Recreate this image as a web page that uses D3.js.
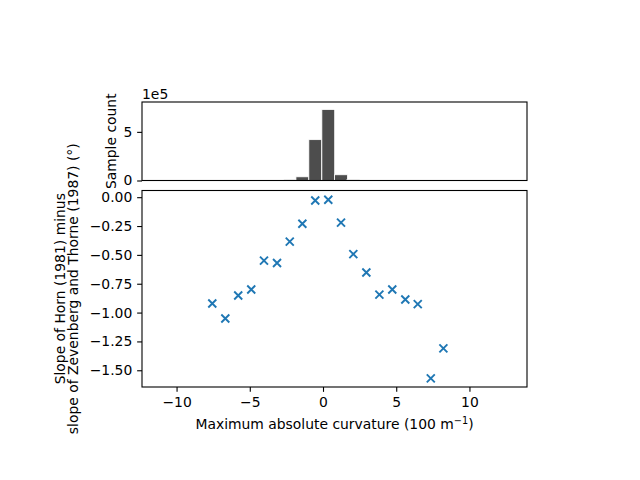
<!DOCTYPE html>
<html>
<head>
<meta charset="utf-8">
<script src="https://cdn.jsdelivr.net/npm/d3@7"></script>
<style>
  html, body { margin: 0; padding: 0; background: #fff; }
  text { font-family: "DejaVu Sans", sans-serif; fill: #000; }
</style>
</head>
<body>
<svg id="chart" width="640" height="480"></svg>
<script>
// ---- data ----
const binCenters = [-7.56, -6.67, -5.79, -4.90, -4.03, -3.14, -2.27, -1.41, -0.53, 0.36,
                    1.23, 2.07, 2.96, 3.85, 4.73, 5.62, 6.47, 7.36, 8.22];
const slopeDiff = [-0.921, -1.051, -0.852, -0.800, -0.550, -0.570, -0.385, -0.230, -0.029, -0.022,
                   -0.221, -0.493, -0.653, -0.844, -0.800, -0.887, -0.927, -1.570, -1.310];
const sampleCount = [20, 40, 90, 200, 600, 2500, 10000, 38000, 420000, 730000,
                     59000, 9000, 2000, 500, 200, 100, 50, 30, 20];
const xTicks = [-10, -5, 0, 5, 10];
const yTicksBottom = [0, -0.25, -0.5, -0.75, -1.0, -1.25, -1.5];
const yTicksTop = [0, 500000];

// ---- layout ----
const L = 142, R = 527;
const topT = 102, topB = 180.5;
const botT = 190.5, botB = 387;

const svg = d3.select("#chart");
const fs = 13.9;
const tickLen = 4.86, tickPad = 4.86, lw = 1.1;

const x = d3.scaleLinear().domain([-12.36, 13.93]).range([L, R]);
const yTop = d3.scaleLinear().domain([0, 807000]).range([topB, topT]);
const yBot = d3.scaleLinear().domain([-1.645, 0.058]).range([botB, botT]);

const fmtMinus = s => s.replace(/-/g, "\u2212");

function styleAxis(g) {
  g.select(".domain").remove();
  g.selectAll("text").style("font-size", fs + "px").attr("fill", "#000");
  g.selectAll("line").attr("stroke", "#000").attr("stroke-width", lw);
}

// ---- top histogram ----
const binW = (binCenters[binCenters.length - 1] - binCenters[0]) / (binCenters.length - 1);
svg.append("g").selectAll("rect")
  .data(binCenters)
  .join("rect")
  .attr("x", (d) => x(d - binW / 2))
  .attr("width", (d) => x(d + binW / 2) - x(d - binW / 2))
  .attr("y", (d, i) => yTop(sampleCount[i]))
  .attr("height", (d, i) => topB - yTop(sampleCount[i]))
  .attr("fill", "#4d4d4d")
  .attr("stroke", "#ffffff")
  .attr("stroke-width", 0.8);

svg.append("g").attr("transform", `translate(${L},0)`)
  .call(d3.axisLeft(yTop).tickValues(yTicksTop).tickFormat(d => d3.format("d")(d / 1e5))
        .tickSize(tickLen).tickPadding(tickPad))
  .call(styleAxis);

svg.append("rect").attr("x", L).attr("y", topT).attr("width", R - L).attr("height", topB - topT)
  .attr("fill", "none").attr("stroke", "#000").attr("stroke-width", lw);

svg.append("text").attr("x", L).attr("y", 98.5).style("font-size", fs + "px").text("1e5");

svg.append("text")
  .attr("transform", `translate(115.5,${(topT + topB) / 2}) rotate(-90)`)
  .attr("text-anchor", "middle").style("font-size", fs + "px").text("Sample count");

// ---- bottom scatter ----
svg.append("g").attr("transform", `translate(${L},0)`)
  .call(d3.axisLeft(yBot).tickValues(yTicksBottom).tickFormat(d => fmtMinus(d3.format(".2f")(d)))
        .tickSize(tickLen).tickPadding(tickPad))
  .call(styleAxis);

svg.append("g").attr("transform", `translate(0,${botB})`)
  .call(d3.axisBottom(x).tickValues(xTicks).tickFormat(d => fmtMinus(d3.format("d")(d)))
        .tickSize(tickLen).tickPadding(tickPad))
  .call(styleAxis);

const ms = 4.0;
svg.append("g").selectAll("path")
  .data(binCenters)
  .join("path")
  .attr("transform", (d, i) => `translate(${x(d)},${yBot(slopeDiff[i])})`)
  .attr("d", `M${-ms},${-ms}L${ms},${ms}M${-ms},${ms}L${ms},${-ms}`)
  .attr("stroke", "#1f77b4").attr("stroke-width", 1.9).attr("fill", "none");

svg.append("rect").attr("x", L).attr("y", botT).attr("width", R - L).attr("height", botB - botT)
  .attr("fill", "none").attr("stroke", "#000").attr("stroke-width", lw);

// x label
const xl = svg.append("text").attr("x", (L + R) / 2).attr("y", 428.5)
  .attr("text-anchor", "middle").style("font-size", fs + "px");
xl.append("tspan").text("Maximum absolute curvature (100 m");
xl.append("tspan").attr("dy", -5).style("font-size", (fs * 0.7) + "px").text("\u22121");
xl.append("tspan").attr("dy", 5).text(")");

// y label (two lines)
const yc = (botT + botB) / 2;
svg.append("text").attr("transform", `translate(64.5,${yc}) rotate(-90)`)
  .attr("text-anchor", "middle").style("font-size", fs + "px").text("Slope of Horn (1981) minus");
svg.append("text").attr("transform", `translate(77.5,${yc}) rotate(-90)`)
  .attr("text-anchor", "middle").style("font-size", fs + "px").text("slope of Zevenberg and Thorne (1987) (\u00b0)");
</script>
</body>
</html>
